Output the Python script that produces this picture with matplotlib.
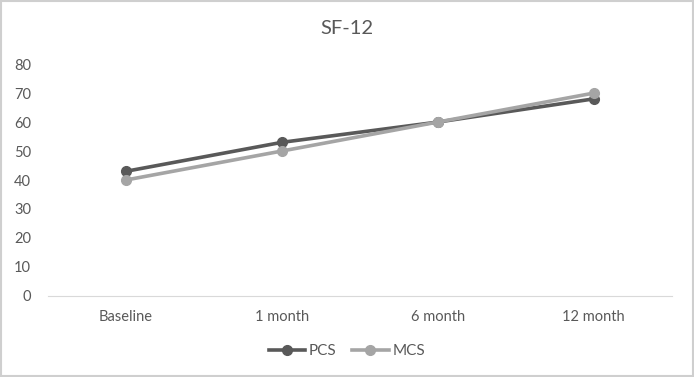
import matplotlib
matplotlib.use("Agg")
from matplotlib import pyplot as plt

plt.rcParams['font.family'] = ['Lato', 'DejaVu Sans']

categories = ['Baseline', '1 month', '6 month', '12 month']
pcs = [43, 53, 60, 68]
mcs = [40, 50, 60, 70]

fig = plt.figure(figsize=(6.94, 3.77), dpi=100)
ax = fig.add_axes([0.069, 0.215, 0.899, 0.615])

x = range(len(categories))
ax.plot(x, pcs, c='#595959', lw=2.6, marker='o', ms=7, label='PCS')
ax.plot(x, mcs, c='#A5A5A5', lw=2.6, marker='o', ms=7, label='MCS')

ax.set_xlim(-0.5, len(categories) - 0.5)
ax.set_ylim(0, 80)
ax.set_yticks(range(0, 81, 10))
ax.set_xticks(list(x))
ax.set_xticklabels(categories)
ax.tick_params(axis='both', length=0, labelsize=10.5, colors='#595959')
ax.tick_params(axis='x', pad=10)
ax.tick_params(axis='y', pad=12)
for s in ['top', 'right', 'left']:
    ax.spines[s].set_visible(False)
ax.spines['bottom'].set_color('#D9D9D9')

fig.text(0.5, 0.925, 'SF-12', ha='center', va='center', fontsize=14.5, color='#595959')
fig.legend(loc='center', bbox_to_anchor=(0.5, 0.068), ncol=2, frameon=False,
           fontsize=11, labelcolor='#595959', handlelength=2.4, columnspacing=1.0,
           handletextpad=0.25)

border = plt.Rectangle((0.001, 0.002), 0.997, 0.995, transform=fig.transFigure,
                       fill=False, ec='#CFCFCF', lw=1.5)
fig.patches.append(border)

fig.savefig('out.png', dpi=100)
